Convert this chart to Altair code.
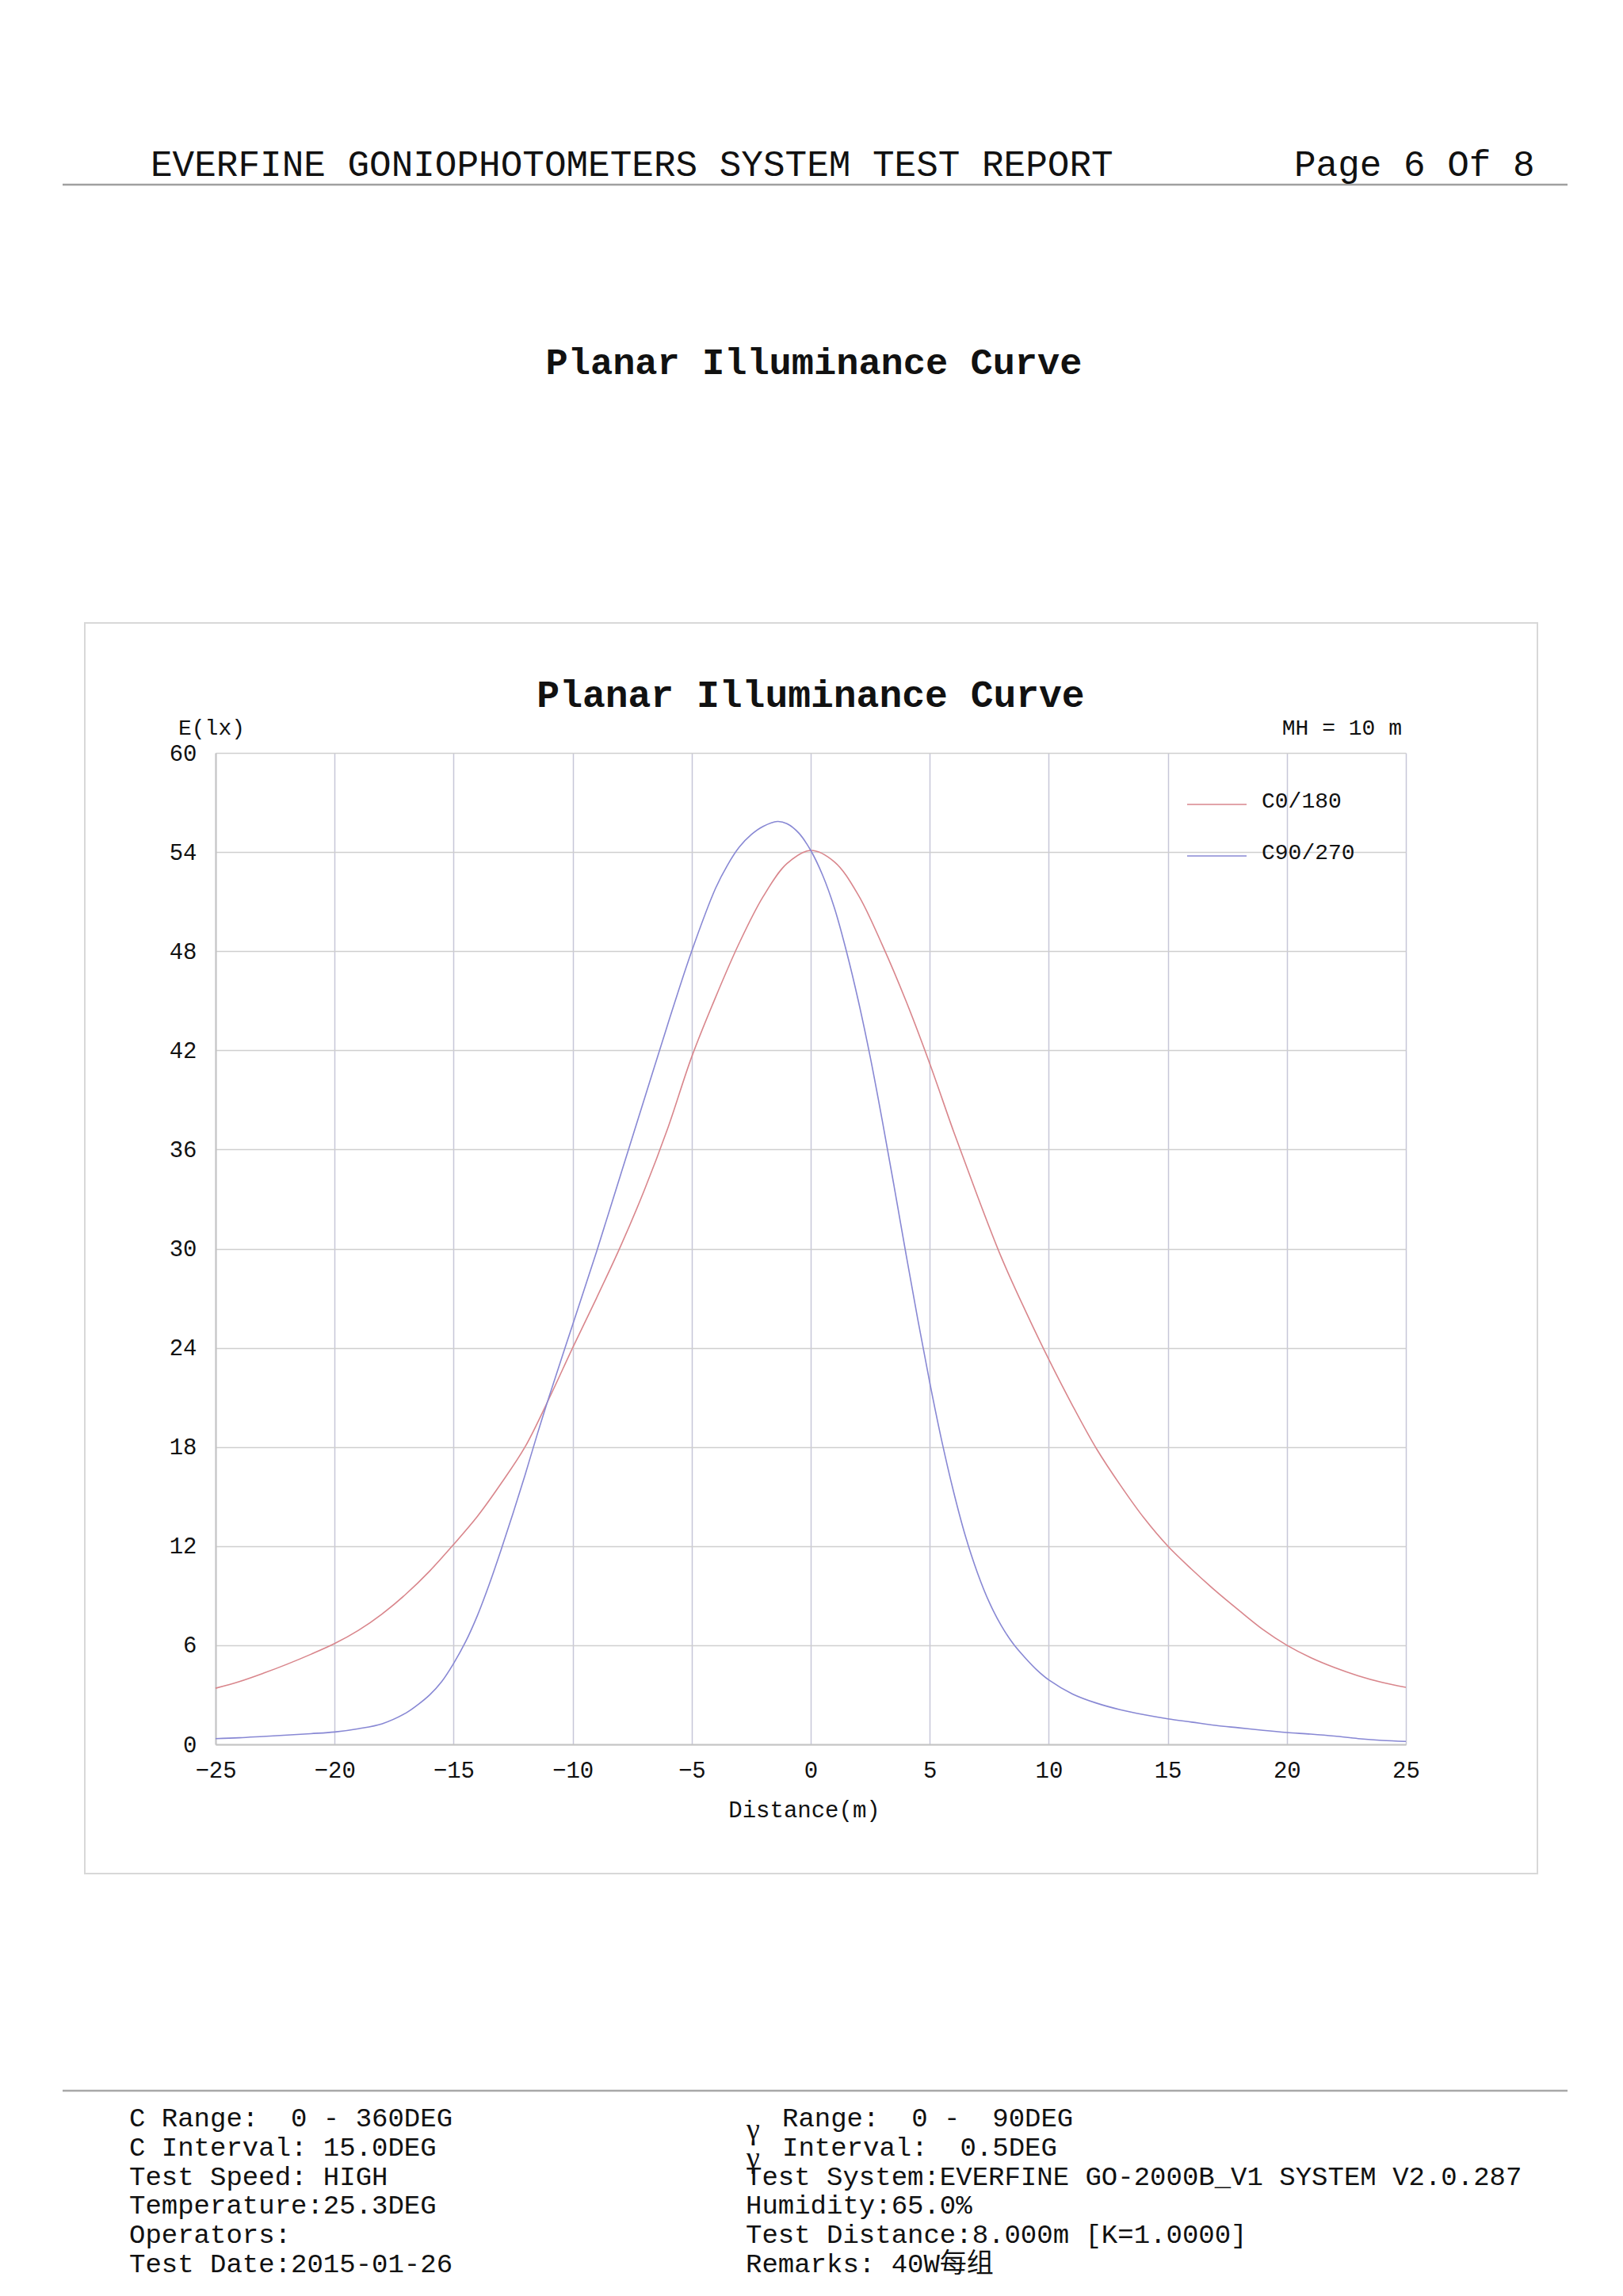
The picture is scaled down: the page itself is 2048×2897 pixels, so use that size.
import altair as alt
import pandas as pd

# ---------------- data ----------------
series_names = ["C0/180", "C90/270"]
series_colors = ["#d9868c", "#8888d4"]

dist_c0 = [-25, -24, -23, -22, -21, -20, -19, -18, -17, -16, -15, -14, -13, -12, -11,
           -10, -9, -8, -7, -6, -5, -4, -3, -2, -1, 0, 1, 2, 3, 4, 5, 6, 7, 8, 9,
           10, 11, 12, 13, 14, 15, 16, 17, 18, 19, 20, 21, 22, 23, 24, 25]
e_c0 = [3.4, 3.8, 4.3, 4.85, 5.45, 6.1, 6.9, 7.9, 9.1, 10.5, 12.1, 13.8, 15.8, 18.0, 20.9,
        24.0, 27.0, 30.1, 33.5, 37.3, 41.6, 45.2, 48.5, 51.3, 53.3, 54.1, 53.4, 51.4, 48.4,
        45.0, 41.2, 37.1, 33.2, 29.5, 26.3, 23.3, 20.5, 17.9, 15.7, 13.7, 12.0, 10.6, 9.3,
        8.1, 6.95, 6.0, 5.25, 4.65, 4.15, 3.75, 3.45]

dist_c90 = [-25, -24, -23, -22, -21, -20, -19, -18, -17, -16.5, -16, -15.5, -15, -14.5,
            -14, -13.5, -13, -12.5, -12, -11.5, -11, -10, -9, -8, -7, -6, -5, -4, -3.5,
            -3, -2.5, -2, -1.4, -1, -0.5, 0, 0.5, 1, 1.5, 2, 2.5, 3, 3.5, 4, 4.5, 5, 5.5, 6,
            6.5, 7, 7.5, 8, 8.5, 9, 9.5, 10, 11, 12, 13, 14, 15, 16, 17, 18, 19, 20, 21, 22,
            23, 24, 25]
e_c90 = [0.35, 0.4, 0.48, 0.56, 0.65, 0.75, 0.95, 1.25, 1.9, 2.4, 3.0, 3.8, 4.9, 6.2,
         7.8, 9.7, 11.8, 14.0, 16.3, 18.7, 21.0, 25.4, 29.8, 34.4, 39.0, 43.6, 48.0, 51.8, 53.2,
         54.3, 55.05, 55.55, 55.85, 55.72, 55.15, 54.1, 52.6, 50.6, 48.0, 45.0, 41.6, 37.8,
         33.8, 29.7, 25.7, 21.9, 18.4, 15.3, 12.6, 10.4, 8.6, 7.2, 6.1, 5.25, 4.5, 3.9, 3.05,
         2.5, 2.1, 1.8, 1.55, 1.35, 1.15, 1.0, 0.85, 0.72, 0.62, 0.5, 0.35, 0.24, 0.18]

x_ticks = [-25, -20, -15, -10, -5, 0, 5, 10, 15, 20, 25]
y_ticks = [0, 6, 12, 18, 24, 30, 36, 42, 48, 54, 60]

header_left = "EVERFINE GONIOPHOTOMETERS SYSTEM TEST REPORT"
header_right = "Page 6 Of 8"
page_title = "Planar Illuminance Curve"
chart_title = "Planar Illuminance Curve"
y_title = "E(lx)"
x_title = "Distance(m)"
mh_text = "MH = 10 m"

footer_left = ["C Range:  0 - 360DEG", "C Interval: 15.0DEG", "Test Speed: HIGH",
               "Temperature:25.3DEG", "Operators:", "Test Date:2015-01-26"]
footer_right = ["Range:  0 -  90DEG", "Interval:  0.5DEG",
                "Test System:EVERFINE GO-2000B_V1 SYSTEM V2.0.287", "Humidity:65.0%",
                "Test Distance:8.000m [K=1.0000]", "Remarks: 40W每组"]

assert len(dist_c0) == len(e_c0)
assert len(dist_c90) == len(e_c90)

df = pd.concat([
    pd.DataFrame({"Distance": dist_c0, "E": e_c0, "Series": series_names[0]}),
    pd.DataFrame({"Distance": dist_c90, "E": e_c90, "Series": series_names[1]}),
], ignore_index=True)

# ---------------- styling ----------------
W, H = 1502, 1251
MONO = "Liberation Mono, Courier New, Noto Sans CJK SC, monospace"
INK = "#111111"
NBSP = "\u00a0"


def keep_spaces(s):
    # SVG collapses runs of spaces; keep them with non-breaking spaces
    return s.replace(" ", NBSP)


def label(text, x, y, size, align="left", baseline="alphabetic", weight="normal",
          font=MONO, color=INK):
    return alt.Chart(pd.DataFrame({"t": [keep_spaces(text)]})).mark_text(
        align=align, baseline=baseline, fontSize=size, fontWeight=weight,
        font=font, color=color
    ).encode(x=alt.value(x), y=alt.value(y), text="t:N")


one = pd.DataFrame({"a": [0]})

outer_box = alt.Chart(one).mark_rect(
    fillOpacity=0, stroke="#d8d8d8", strokeWidth=2
).encode(x=alt.value(-165), x2=alt.value(1668), y=alt.value(-164), y2=alt.value(1414))

header_rule = alt.Chart(one).mark_rule(color="#a0a0a0", strokeWidth=2.5).encode(
    x=alt.value(-193), x2=alt.value(1706), y=alt.value(-717))
footer_rule = alt.Chart(one).mark_rule(color="#a8a8a8", strokeWidth=2.5).encode(
    x=alt.value(-193), x2=alt.value(1706), y=alt.value(1688))

curves = alt.Chart(df).mark_line(strokeWidth=1.6, interpolate="catmull-rom").encode(
    x=alt.X("Distance:Q",
            scale=alt.Scale(domain=[-25, 25], nice=False, zero=False),
            axis=alt.Axis(values=x_ticks, title=None, grid=True, gridColor="#c6c6d8",
                          gridWidth=1.5, ticks=False, labelPadding=32,
                          labelBaseline="middle", labelFont=MONO, labelFontSize=29,
                          labelColor=INK, domainColor="#c4c4c4", domainWidth=2,
                          labelFlush=False)),
    y=alt.Y("E:Q",
            scale=alt.Scale(domain=[0, 60], nice=False),
            axis=alt.Axis(values=y_ticks, title=None, grid=True, gridColor="#cfcfcf",
                          gridWidth=1.5, ticks=False, labelPadding=24,
                          labelFont=MONO, labelFontSize=29, labelColor=INK,
                          domainColor="#c4c4c4", domainWidth=2, labelFlush=False)),
    color=alt.Color("Series:N", scale=alt.Scale(domain=series_names, range=series_colors),
                    legend=None),
)

# legend (drawn by hand like the reference)
legend_layers = []
for i, (name, col) in enumerate(zip(series_names, series_colors)):
    ly = 65 + i * 65
    legend_layers.append(
        alt.Chart(one).mark_rule(color=col, strokeWidth=1.6).encode(
            x=alt.value(1226), x2=alt.value(1301), y=alt.value(ly)))
    legend_layers.append(label(name, 1320, ly - 4, 28, baseline="middle"))

texts = [
    label(header_left, -82, -728, 46),
    label(header_right, 1361, -728, 46),
    label(page_title, 755, -478, 47, align="center", weight="bold"),
    label(chart_title, 751, -58, 48, align="center", weight="bold"),
    label(y_title, -47, -23, 28),
    label(mh_text, 1497, -23, 28, align="right"),
    label(x_title, 743, 1334, 29, align="center", baseline="middle"),
]

footer_y = [1723, 1760, 1797, 1833, 1870, 1907]
for i, t in enumerate(footer_left):
    texts.append(label(t, -109, footer_y[i], 34, baseline="middle"))
for i, t in enumerate(footer_right):
    fx = 715 if i < 2 else 669
    texts.append(label(t, fx, footer_y[i], 34, baseline="middle"))
# gamma symbols, set slightly lower as in the reference
GREEK = "Liberation Serif, DejaVu Serif, serif"
texts.append(label("γ", 670, 1738, 38, baseline="middle", font=GREEK))
texts.append(label("γ", 670, 1774, 38, baseline="middle", font=GREEK))

chart = alt.layer(
    outer_box, header_rule, footer_rule, curves, *legend_layers, *texts
).properties(
    width=W, height=H,
    padding={"left": 264, "top": 942, "right": 250, "bottom": 680},
    autosize=alt.AutoSizeParams(type="none"),
    background="white",
).configure_view(stroke=None)

chart.save("out.html", embed_options={"renderer": "svg", "actions": False})
